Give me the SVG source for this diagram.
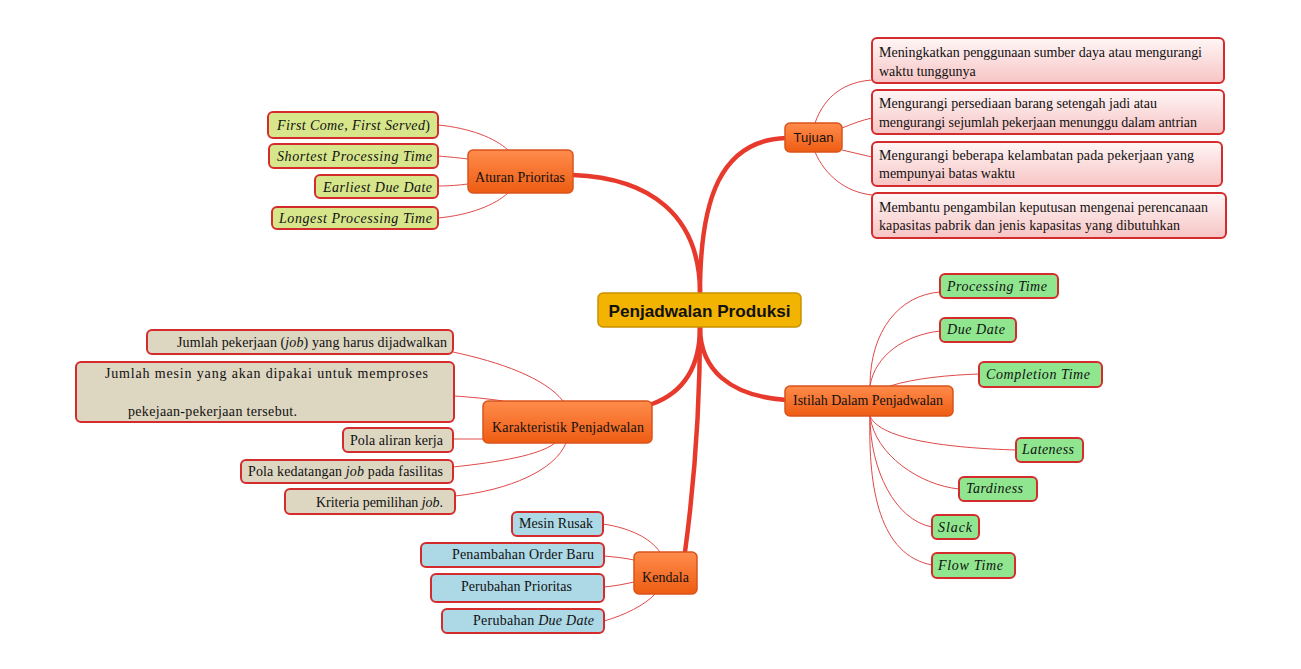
<svg xmlns="http://www.w3.org/2000/svg" width="1301" height="669" viewBox="0 0 1301 669">
<defs>
<linearGradient id="org" x1="0" y1="0" x2="0" y2="1"><stop offset="0" stop-color="#ff8c4c"/><stop offset="1" stop-color="#ee5c12"/></linearGradient>
<linearGradient id="pnk" x1="0" y1="0" x2="0" y2="1"><stop offset="0" stop-color="#fff6f6"/><stop offset="1" stop-color="#f7c4c4"/></linearGradient>
<style>
.main{fill:none;stroke:#e83a2c;stroke-width:4.5;stroke-linecap:round}
.thin{fill:none;stroke:#e04848;stroke-width:1}
.topic{fill:url(#org);stroke:#d9531c;stroke-width:1.5}
.leaf{stroke:#d42c2c;stroke-width:2}
.pk{fill:url(#pnk)}
.yg{fill:#d7e68b}
.tn{fill:#ddd6c1}
.bl{fill:#add8e6}
.gr{fill:#8fe68f}
text{font-family:"Liberation Serif","Times New Roman",serif;font-size:14px;fill:#111}
.it{font-style:italic}
.sans{font-family:"Liberation Sans",Arial,sans-serif}
</style>
</defs>
<rect width="1301" height="669" fill="#fff"/>
<g id="connectors">
<path class="main" d="M700,293 C700,200 720,140 786,138"/>
<path class="main" d="M700,293 C700,215 650,178 573,175"/>
<path class="main" d="M700,327 C700,365 685,392 652,404"/>
<path class="main" d="M700,327 C700,370 730,396 786,400"/>
<path class="main" d="M700,327 C700,420 692,500 685,552"/>
<path class="thin" d="M815,123 C825,95 845,82 872,80"/>
<path class="thin" d="M842,128 C852,124 862,120 872,118"/>
<path class="thin" d="M842,150 C852,152 862,155 872,157"/>
<path class="thin" d="M815,152 C825,175 845,192 872,195"/>
<path class="thin" d="M438,125 C470,128 495,138 508,150"/>
<path class="thin" d="M438,156 C450,157 460,158 468,159"/>
<path class="thin" d="M438,186 C450,186 460,185 468,184"/>
<path class="thin" d="M438,218 C470,215 495,205 508,193"/>
<path class="thin" d="M453,352 C500,362 545,378 563,401"/>
<path class="thin" d="M454,396 C470,397 490,399 503,401"/>
<path class="thin" d="M453,439 C465,439 475,439 483,439"/>
<path class="thin" d="M453,467 C500,462 540,455 555,443"/>
<path class="thin" d="M455,496 C510,490 555,470 566,443"/>
<path class="thin" d="M603,524 C630,528 650,538 660,552"/>
<path class="thin" d="M604,556 C615,557 625,558 634,560"/>
<path class="thin" d="M604,587 C615,586 625,584 634,582"/>
<path class="thin" d="M604,621 C625,615 645,605 655,594"/>
<path class="thin" d="M870,386 C870,330 900,295 940,292"/>
<path class="thin" d="M870,386 C875,355 905,335 940,331"/>
<path class="thin" d="M890,386 C915,378 950,375 979,374"/>
<path class="thin" d="M870,416 C880,440 950,448 1016,450"/>
<path class="thin" d="M870,416 C875,455 920,485 959,489"/>
<path class="thin" d="M870,416 C870,470 895,520 932,527"/>
<path class="thin" d="M870,416 C868,490 880,555 932,565"/>
</g>
<g id="center">
<rect x="598" y="293" width="203" height="34" rx="5" fill="#f2b400" stroke="#c99100" stroke-width="1.5"/>
<text x="699.5" y="317" text-anchor="middle" class="sans" style="font-size:17px;font-weight:bold" textLength="182" lengthAdjust="spacingAndGlyphs">Penjadwalan Produksi</text>
</g>
<g id="tujuan">
<rect class="topic" x="785" y="123" width="57" height="29" rx="5"/>
<text x="813.5" y="142" text-anchor="middle" class="sans" style="font-size:13px" textLength="40">Tujuan</text>
</g>
<g id="tujuan-1">
<rect class="leaf pk" x="872" y="38" width="352" height="45" rx="5"/>
<text x="879" y="57" textLength="323">Meningkatkan penggunaan sumber daya atau mengurangi</text>
<text x="879" y="76">waktu tunggunya</text>
</g>
<g id="tujuan-2">
<rect class="leaf pk" x="872" y="90" width="352" height="44" rx="5"/>
<text x="879" y="108" textLength="278">Mengurangi persediaan barang setengah jadi atau</text>
<text x="879" y="127" textLength="318">mengurangi sejumlah pekerjaan menunggu dalam antrian</text>
</g>
<g id="tujuan-3">
<rect class="leaf pk" x="872" y="142" width="350" height="44" rx="5"/>
<text x="879" y="160" textLength="315">Mengurangi beberapa kelambatan pada pekerjaan yang</text>
<text x="879" y="178">mempunyai batas waktu</text>
</g>
<g id="tujuan-4">
<rect class="leaf pk" x="872" y="193" width="354" height="45" rx="5"/>
<text x="879" y="212" textLength="329">Membantu pengambilan keputusan mengenai perencanaan</text>
<text x="879" y="230" textLength="301">kapasitas pabrik dan jenis kapasitas yang dibutuhkan</text>
</g>
<g id="aturan">
<rect class="topic" x="468" y="150" width="105" height="43" rx="5"/>
<text x="520" y="182" text-anchor="middle" textLength="90">Aturan Prioritas</text>
</g>
<g id="aturan-1">
<rect class="leaf yg" x="268" y="112" width="170" height="26" rx="5"/>
<text x="277" y="130" textLength="153"><tspan class="it">First Come, First Served</tspan>)</text>
</g>
<g id="aturan-2">
<rect class="leaf yg" x="269" y="144" width="169" height="24" rx="5"/>
<text x="277" y="161" class="it" textLength="155">Shortest Processing Time</text>
</g>
<g id="aturan-3">
<rect class="leaf yg" x="315" y="175" width="123" height="23" rx="5"/>
<text x="323" y="192" class="it" textLength="109">Earliest Due Date</text>
</g>
<g id="aturan-4">
<rect class="leaf yg" x="272" y="207" width="166" height="22" rx="5"/>
<text x="279" y="223" class="it" textLength="153">Longest Processing Time</text>
</g>
<g id="karakteristik">
<rect class="topic" x="483" y="401" width="169" height="42" rx="5"/>
<text x="568" y="432" text-anchor="middle" textLength="152">Karakteristik Penjadwalan</text>
</g>
<g id="kar-1">
<rect class="leaf tn" x="147" y="330" width="306" height="24" rx="5"/>
<text x="177" y="347" textLength="270">Jumlah pekerjaan (<tspan class="it">job</tspan>) yang harus dijadwalkan</text>
</g>
<g id="kar-2">
<rect class="leaf tn" x="76" y="362" width="378" height="60" rx="5"/>
<text x="105" y="378" textLength="323" lengthAdjust="spacing">Jumlah mesin yang akan dipakai untuk memproses</text>
<text x="128" y="416" textLength="169">pekejaan-pekerjaan tersebut.</text>
</g>
<g id="kar-3">
<rect class="leaf tn" x="343" y="428" width="110" height="24" rx="5"/>
<text x="350" y="445" textLength="93">Pola aliran kerja</text>
</g>
<g id="kar-4">
<rect class="leaf tn" x="241" y="460" width="212" height="23" rx="5"/>
<text x="248" y="476" textLength="195">Pola kedatangan <tspan class="it">job</tspan> pada fasilitas</text>
</g>
<g id="kar-5">
<rect class="leaf tn" x="285" y="489" width="170" height="25" rx="5"/>
<text x="316" y="507" textLength="127">Kriteria pemilihan <tspan class="it">job</tspan>.</text>
</g>
<g id="kendala">
<rect class="topic" x="634" y="552" width="63" height="42" rx="5"/>
<text x="665.5" y="582" text-anchor="middle" textLength="47">Kendala</text>
</g>
<g id="ken-1">
<rect class="leaf bl" x="512" y="512" width="91" height="24" rx="5"/>
<text x="519" y="528" textLength="74">Mesin Rusak</text>
</g>
<g id="ken-2">
<rect class="leaf bl" x="421" y="543" width="183" height="24" rx="5"/>
<text x="452" y="559" textLength="142">Penambahan Order Baru</text>
</g>
<g id="ken-3">
<rect class="leaf bl" x="431" y="574" width="173" height="28" rx="5"/>
<text x="461" y="591" textLength="111">Perubahan Prioritas</text>
</g>
<g id="ken-4">
<rect class="leaf bl" x="442" y="609" width="162" height="24" rx="5"/>
<text x="473" y="625" textLength="121">Perubahan <tspan class="it">Due Date</tspan></text>
</g>
<g id="istilah">
<rect class="topic" x="785" y="386" width="168" height="30" rx="5"/>
<text x="868" y="405" text-anchor="middle" textLength="150">Istilah Dalam Penjadwalan</text>
</g>
<g id="ist-1">
<rect class="leaf gr" x="940" y="274" width="118" height="24" rx="5"/>
<text x="947" y="291" class="it" textLength="100">Processing Time</text>
</g>
<g id="ist-2">
<rect class="leaf gr" x="940" y="318" width="76" height="24" rx="5"/>
<text x="947" y="334" class="it" textLength="58">Due Date</text>
</g>
<g id="ist-3">
<rect class="leaf gr" x="979" y="362" width="123" height="25" rx="5"/>
<text x="986" y="379" class="it" textLength="104">Completion Time</text>
</g>
<g id="ist-4">
<rect class="leaf gr" x="1016" y="438" width="67" height="24" rx="5"/>
<text x="1022" y="454" class="it" textLength="52">Lateness</text>
</g>
<g id="ist-5">
<rect class="leaf gr" x="959" y="477" width="78" height="24" rx="5"/>
<text x="966" y="493" class="it" textLength="57">Tardiness</text>
</g>
<g id="ist-6">
<rect class="leaf gr" x="932" y="515" width="47" height="24" rx="5"/>
<text x="938" y="532" class="it" textLength="34">Slack</text>
</g>
<g id="ist-7">
<rect class="leaf gr" x="932" y="553" width="83" height="25" rx="5"/>
<text x="938" y="570" class="it" textLength="65">Flow Time</text>
</g>
</svg>
